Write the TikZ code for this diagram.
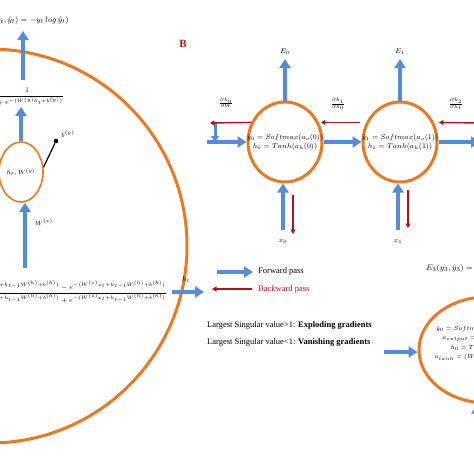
\documentclass[tikz,border=0pt]{standalone}
\usepackage{amsmath}
\usepackage{amssymb}
\usepackage{fontspec}
\setmainfont{Liberation Serif}
\usetikzlibrary{shapes,arrows.meta}

\definecolor{cellorange}{RGB}{232,122,38}
\definecolor{passblue}{RGB}{84,141,212}
\definecolor{passred}{RGB}{180,18,24}

\tikzset{
  cell/.style={shape=ellipse, draw=cellorange, line width=3pt, inner sep=0pt},
  fwd/.style={draw=passblue, line width=3.6pt, -{Triangle[width=11pt,length=9pt]}},
  bwd/.style={draw=passred, line width=1.4pt, -{Triangle[width=5pt,length=4.5pt]}},
  lbl/.style={font=\fontsize{7.5}{9}\selectfont, inner sep=1pt},
  txt/.style={font=\fontsize{8.5}{10}\selectfont, inner sep=0pt, anchor=west}
}

\begin{document}
\begin{tikzpicture}[x=1pt,y=-1pt]
\clip (0,0) rectangle (474,474);
\fill[white] (0,0) rectangle (474,474);

% left: the cell, opened up
\node (big) at (-10,246) [cell, minimum width=394pt, minimum height=394pt] {};
\node (et) at (70,20) [lbl, anchor=east, font=\fontsize{8}{9}\selectfont] {$E_t(y_t,\hat{y}_t) = -y_t\, log\,\hat{y}_t)$};
\node (sg) at (27,97) [lbl] {$\dfrac{1}{1+e^{-(W^{(y)}h_t+b^{(y)})}}$};
\node (sc) at (21,172) [cell, line width=1.6pt, minimum width=44pt, minimum height=60pt] {};
\node at (sc) [lbl, font=\fontsize{6.5}{7}\selectfont] {$h_t,W^{(y)}$};
\node (bd) at (56,141) [circle, fill=black, inner sep=1.6pt] {};
\node (by) at (68,134) [lbl, font=\fontsize{6.5}{7}\selectfont] {$b^{(y)}$};
\node (wzl) at (44,222) [lbl, font=\fontsize{6.5}{7}\selectfont] {$W^{(z)}$};
\node (th) at (168,292) [lbl, anchor=east, font=\fontsize{7}{8}\selectfont]
  {$\dfrac{e^{(W^{(z)}x_t+h_{t-1}W^{(h)}+b^{(h)})}-e^{-(W^{(z)}x_t+h_{t-1}W^{(h)}+b^{(h)})}}{e^{(W^{(z)}x_t+h_{t-1}W^{(h)}+b^{(h)})}+e^{-(W^{(z)}x_t+h_{t-1}W^{(h)}+b^{(h)})}}$};
\node (htl) at (186,280) [lbl] {$h_t$};

\coordinate (sgt) at (23,80);
\coordinate (ett) at (23,31);
\coordinate (wz) at (25,268);
\coordinate (ha) at (172,292);
\coordinate (hb) at (204,292);

\draw [fwd] (sgt) -- (ett);
\draw [fwd] (sc.north) -- (sc.north |- sg.south);
\draw [fwd] (wz) -- (wz |- sc.south);
\draw [line width=1.2pt] (sc.12) -- (bd);
\draw [fwd] (ha) -- (hb);

% right: unrolled in time
\node (B) at (183,44) [text=passred, font=\bfseries\fontsize{11}{12}\selectfont] {B};

\node (c0) at (285,142) [cell, minimum width=74pt, minimum height=80pt] {};
\node (c1) at (400,142) [cell, minimum width=74pt, minimum height=80pt] {};
\node at (c0) [lbl, align=center, font=\fontsize{7}{8.5}\selectfont] {$\hat{y}_0 = Softmax(a_o(0))$\\$h_0 = Tanh(a_h(0))$};
\node at (c1) [lbl, align=center, font=\fontsize{7}{8.5}\selectfont] {$\hat{y}_1 = Softmax(a_o(1))$\\$h_1 = Tanh(a_h(1))$};

\node (e0) at (285,52) [lbl] {$E_0$};
\node (e1) at (400,52) [lbl] {$E_1$};
\node (x0) at (283,241) [lbl] {$x_0$};
\node (x1) at (398,241) [lbl] {$x_1$};
\node (g0) at (226,103) [lbl, font=\fontsize{7}{8}\selectfont] {$\frac{\partial h_0}{\partial W}$};
\node (g1) at (338,104) [lbl, font=\fontsize{7}{8}\selectfont] {$\frac{\partial h_1}{\partial h_0}$};
\node (g2) at (456,104) [lbl, font=\fontsize{7}{8}\selectfont] {$\frac{\partial h_2}{\partial h_1}$};

\coordinate (u0) at (283,230);
\coordinate (u1) at (398,230);
\coordinate (d0a) at (293,195);
\coordinate (d0b) at (293,234);
\coordinate (d1a) at (408,190);
\coordinate (d1b) at (408,228);
\coordinate (in0) at (207,142);
\coordinate (dwa) at (215,123);
\coordinate (dwb) at (215,142);
\coordinate (r0b) at (210,123);
\coordinate (out1) at (480,142);
\coordinate (r2a) at (480,123);

\draw [fwd, shorten >=3pt] (c0.north) -- (e0.south);
\draw [fwd, shorten >=3pt] (c1.north) -- (e1.south);
\draw [fwd] (u0) -- (u0 |- c0.south);
\draw [fwd] (u1) -- (u1 |- c1.south);
\draw [bwd] (d0a) -- (d0b);
\draw [bwd] (d1a) -- (d1b);
\draw [fwd] (in0) -- (c0.west);
\draw [fwd, line width=3pt, -{Triangle[width=8pt,length=6pt]}] (dwa) -- (dwb);
\draw [bwd] (c0.150) -- (r0b);
\draw [fwd] (c0.east) -- (c1.west);
\draw [bwd, shorten <=6pt, shorten >=2pt] (c1.150) -- (c0.30);
\draw [fwd] (c1.east) -- (out1);
\draw [bwd, shorten >=5pt] (r2a) -- (c1.30);

% legend
\coordinate (fa) at (217,272);
\coordinate (fb) at (253,272);
\coordinate (ba) at (252,289);
\coordinate (bb) at (212,289);
\draw [fwd] (fa) -- (fb);
\draw [bwd] (ba) -- (bb);
\node (fl) at (258,271) [txt] {Forward pass};
\node (bl) at (258,289) [txt, text=passred] {Backward pass};
\node (s1) at (207,325) [txt] {Largest Singular value>1: \textbf{Exploding gradients}};
\node (s2) at (207,342) [txt] {Largest Singular value<1: \textbf{Vanishing gradients}};

% last step
\node (e3) at (425,268) [lbl, anchor=west, font=\fontsize{8.5}{10}\selectfont] {$E_3(y_3,\hat{y}_3) = -y_3\, log\,\hat{y}_3$};
\node (c3) at (487,350) [cell, minimum width=136pt, minimum height=106pt] {};
\node (t3) at (476,343) [lbl, align=center, font=\fontsize{6.5}{9.5}\selectfont]
  {$\hat{y}_0 = Softmax(a_{output})$\\$a_{output} = (W^{(y)})h_0$\\$h_0 = Tanh(a_h)$\\$a_{tanh} = (W^{(z)})y_0 + b^{(h)}$};
\coordinate (in3) at (384,352);
\coordinate (u3) at (477,445);
\draw [fwd] (in3) -- (in3 -| c3.west);
\draw [fwd] (u3) -- (u3 |- c3.south);
\end{tikzpicture}
\end{document}
